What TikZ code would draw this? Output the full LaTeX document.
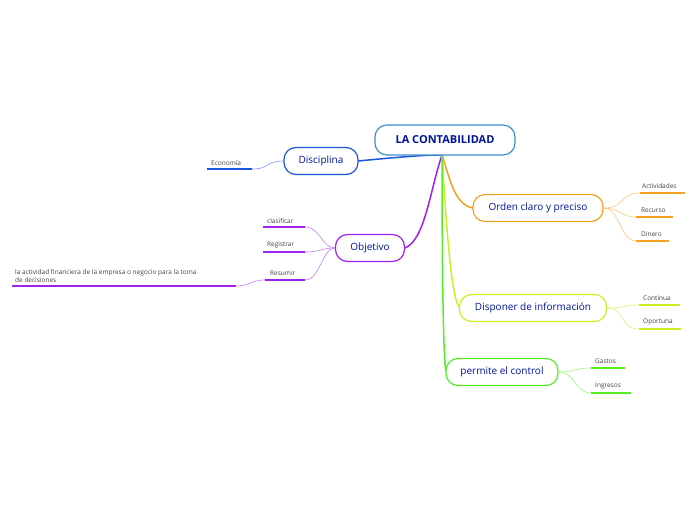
\documentclass[tikz,border=0pt]{standalone}
\usepackage{fontspec}
\setmainfont{Open Sans}
\begin{document}
\begin{tikzpicture}[x=1pt,y=-1pt,
  topic/.style={draw=#1,line width=1.2pt,rounded corners=12pt,fill=white,font=\fontsize{10}{12}\selectfont,text=black!80!green!40!blue,minimum height=27pt,inner xsep=12pt},
  leaf/.style={font=\fontsize{6.5}{8}\selectfont,text=black!75,anchor=south west,inner sep=1pt},
  ul/.style={draw=#1,line width=1.5pt},
  br/.style={draw=#1,line width=0.6pt}]
\useasboundingbox (0,0) rectangle (696,520);
\definecolor{cblue}{HTML}{1A56E0}
\definecolor{cmain}{HTML}{3A8FD0}
\definecolor{cpurp}{HTML}{A020F0}
\definecolor{corange}{HTML}{F7A020}
\definecolor{cyel}{HTML}{CCEE22}
\definecolor{cgreen}{HTML}{55EE22}
% connectors from main
\coordinate (hub) at (442,155);
\draw[cblue,line width=1.5pt] (358,161) .. controls (390,158) and (420,155) .. (hub);
\draw[cpurp,line width=1.5pt] (405,248) .. controls (425,240) and (430,190) .. (hub);
\draw[corange,line width=1.5pt] (473,208) .. controls (455,205) and (450,180) .. (hub);
\draw[cyel,line width=1.5pt] (460,308) .. controls (450,300) and (445,200) .. (hub);
\draw[cgreen,line width=1.5pt] (446,372) .. controls (443,360) and (442,250) .. (hub);
\node[topic=cmain,minimum width=140pt,minimum height=30pt,font=\fontsize{11}{13}\selectfont\bfseries] (main) at (445,140) {LA CONTABILIDAD};
\node[topic=cblue,minimum width=74pt] (dis) at (321,161) {Disciplina};
\node[topic=cpurp,minimum width=69pt] (obj) at (370,248) {Objetivo};
\node[topic=corange,minimum width=130pt] (ord) at (538,208) {Orden claro y preciso};
\node[topic=cyel,minimum width=147pt] (disp) at (533,308) {Disponer de información};
\node[topic=cgreen,minimum width=112pt] (per) at (502,372) {permite el control};
% leaves
\node[leaf] (eco) at (210,167) {Economía};
\draw[ul=cblue] (207,169) -- (252,169);
\draw[br=cblue!60] (dis.west) .. controls (265,161) and (270,169) .. (252,169);
\node[leaf] (cla) at (266,225) {clasificar};
\draw[ul=cpurp] (263,227) -- (305,227);
\node[leaf] (reg) at (266,249) {Registrar};
\draw[ul=cpurp] (263,252) -- (305,252);
\node[leaf] (res) at (269,277) {Resumir};
\draw[ul=cpurp] (265,280) -- (305,280);
\foreach \y in {227,252,280}
  \draw[br=cpurp!60] (obj.west) .. controls (322,248) and (320,\y) .. (305,\y);
\node[leaf,align=left,anchor=south west] (lar) at (14,284) {la actividad financiera de la empresa o negocio para la toma\\de decisiones};
\draw[ul=cpurp] (12,286) -- (236,286);
\draw[br=cpurp!60] (265,280) .. controls (250,280) and (250,286) .. (236,286);
% orange
\node[leaf] (act) at (641,190) {Actividades};
\draw[ul=corange] (640,193) -- (685,193);
\node[leaf] (rec) at (640,214) {Recurso};
\draw[ul=corange] (636,217) -- (673,217);
\node[leaf] (din) at (640,238) {Dinero};
\draw[ul=corange] (636,241) -- (669,241);
\draw[br=corange!60] (ord.east) .. controls (625,208) and (620,193) .. (640,193);
\draw[br=corange!60] (ord.east) .. controls (620,208) and (620,217) .. (636,217);
\draw[br=corange!60] (ord.east) .. controls (620,208) and (620,241) .. (636,241);
% yellow
\node[leaf] (con) at (642,302) {Continua};
\draw[ul=cyel] (639,305) -- (680,305);
\node[leaf] (opo) at (642,326) {Oportuna};
\draw[ul=cyel] (639,329) -- (681,329);
\draw[br=cyel!70] (disp.east) .. controls (625,308) and (625,305) .. (639,305);
\draw[br=cyel!70] (disp.east) .. controls (625,308) and (620,329) .. (639,329);
% green
\node[leaf] (gas) at (594,365) {Gastos};
\draw[ul=cgreen] (591,368) -- (625,368);
\node[leaf] (ing) at (594,390) {Ingresos};
\draw[ul=cgreen] (591,393) -- (631,393);
\draw[br=cgreen!60] (per.east) .. controls (575,372) and (575,368) .. (591,368);
\draw[br=cgreen!60] (per.east) .. controls (575,372) and (575,393) .. (591,393);
\end{tikzpicture}
\end{document}
